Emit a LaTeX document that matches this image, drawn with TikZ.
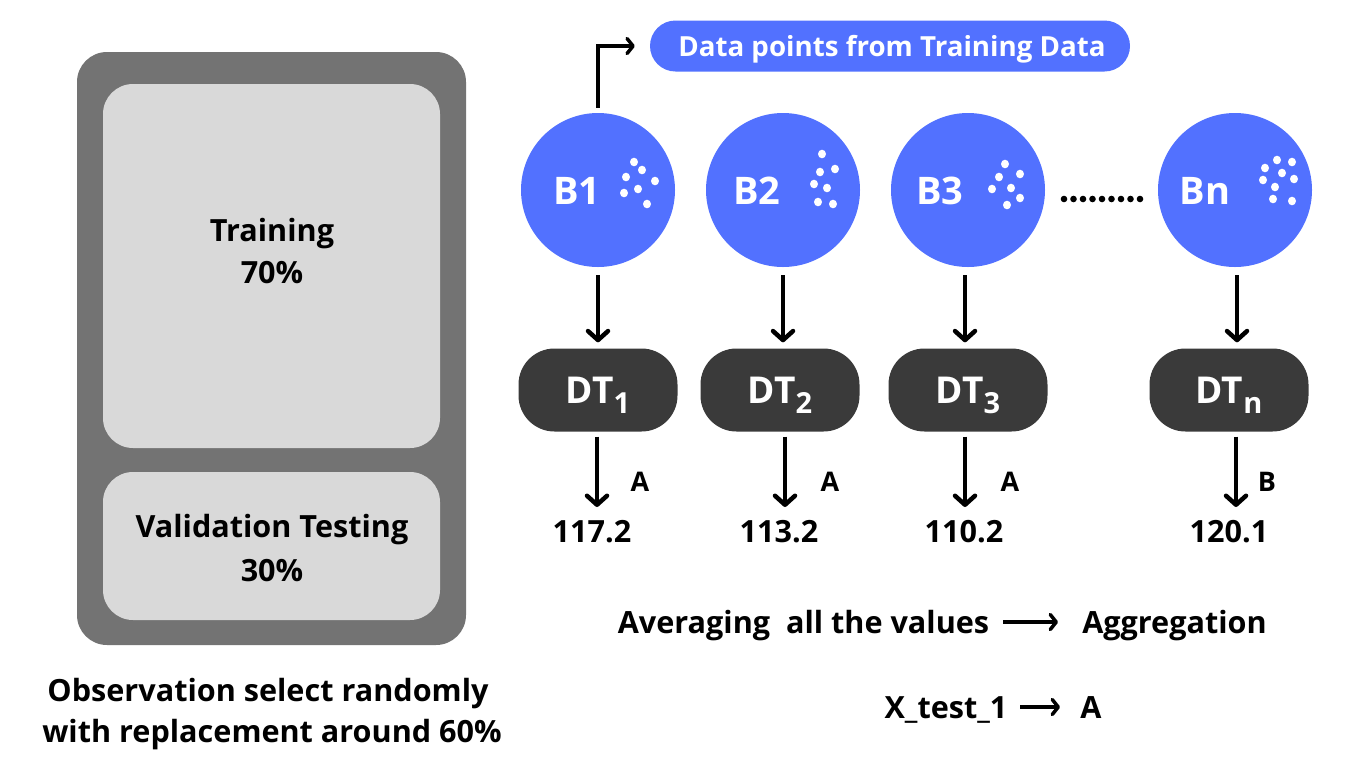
\documentclass[tikz,border=0pt]{standalone}
\usepackage{fontspec}
\setmainfont{Open Sans}
\usetikzlibrary{arrows.meta}
\definecolor{blu}{HTML}{5271FF}
\definecolor{dk}{HTML}{3A3A3A}
\definecolor{outg}{HTML}{737373}
\definecolor{ing}{HTML}{D9D9D9}
\newcommand\sbs[1]{\raisebox{-10pt}{\fontsize{29}{29}\selectfont #1}}
\begin{document}
\begin{tikzpicture}[x=1pt,y=-1pt,
  txt/.style={inner sep=0pt, anchor=base, font=\fontsize{30.6}{36}\selectfont\bfseries},
  wtxt/.style={txt, text=white},
  bigb/.style={inner sep=0pt, anchor=base, text=white, font=\fontsize{38}{42}\selectfont\bfseries},
  dtt/.style={inner sep=0pt, anchor=base, text=white, font=\fontsize{37}{40}\selectfont\bfseries},
  lab/.style={txt, font=\fontsize{27}{30}\selectfont\bfseries},
  bag/.style={circle, fill=blu, minimum size=154pt, inner sep=0pt},
  dtbox/.style={rectangle, rounded corners=36pt, fill=dk, minimum width=159pt, minimum height=83pt, inner sep=0pt},
  arr/.style={line width=4.2pt, -{Straight Barb[length=9pt,width=20pt,line width=4.5pt,round]}},
  sarr/.style={line width=3.5pt, -{Straight Barb[length=6pt,width=15pt,line width=3.5pt,round]}},
  wdot/.style={white}
]
\useasboundingbox (0,0) rectangle (1358,764);
% left panel
\node[fill=outg, rounded corners=30pt, minimum width=389pt, minimum height=593pt, inner sep=0pt] (outer) at (271.5,348.5) {};
\node[fill=ing, rounded corners=30pt, minimum width=337pt, minimum height=364pt, inner sep=0pt] (train) at (271.5,266) {};
\node[fill=ing, rounded corners=30pt, minimum width=337pt, minimum height=148pt, inner sep=0pt] (valid) at (271.5,546) {};
\node[txt] (tr1) at (272,241) {Training};
\node[txt] (tr2) at (272,283) {70\%};
\node[txt] (va1) at (272,537) {Validation Testing};
\node[txt] (va2) at (272,581) {30\%};
\node[txt] (cap1) at (268,701) {Observation select randomly};
\node[txt] (cap2) at (272,742) {with replacement around 60\%};
% top pill
\node[fill=blu, rounded corners=25.5pt, minimum width=480pt, minimum height=51pt, inner sep=0pt] (pill) at (890,46) {};
\node[wtxt, font=\fontsize{27.7}{32}\selectfont\bfseries] (pilltxt) at (892,56) {Data points from Training Data};
% bags
\node[bag] (b1) at (598,190) {};
\node[bag] (b2) at (783,190) {};
\node[bag] (b3) at (968,190) {};
\node[bag] (bn) at (1235,190) {};
\node[bigb] (b1t) at (577,204) {B1};
\node[bigb] (b2t) at (757,204) {B2};
\node[bigb] (b3t) at (940,204) {B3};
\node[bigb] (bnt) at (1205,204) {Bn};
% white dots
\foreach \dx/\dy in {36/-28,44/-20,57/-9,28/-13,40/-1,26/3,49/14}
  \fill[wdot] (598+\dx,190+\dy) ellipse (4pt and 4.3pt);
\foreach \dx/\dy in {39/-36,37/-18,52/-21,31/-6,44/-2,35/12,50/14}
  \fill[wdot] (783+\dx,190+\dy) ellipse (4pt and 4.3pt);
\foreach \dx/\dy in {37/-26,31/-13,52/-16,24/-1,43/-2,39/15,52/8}
  \fill[wdot] (968+\dx,190+\dy) ellipse (4pt and 4.3pt);
\foreach \dx/\dy in {42/-30,57/-28,30/-22,47/-17,28/-10,59/-11,40/-3,38/9,57/11}
  \fill[wdot] (1235+\dx,190+\dy) ellipse (4pt and 4.3pt);
% ellipsis dots
\foreach \i in {0,...,8}
  \fill[black] (1064+\i*9.5,199) circle (3.3pt);
% top bent arrow
\draw[sarr] ([yshift=5pt]b1.north) |- ([xshift=-15pt]pill.west);
% decision trees
\node[dtbox] (d1) at (598,390) {};
\node[dtbox] (d2) at (780,390) {};
\node[dtbox] (d3) at (968,390) {};
\node[dtbox] (dn) at (1229,390) {};
\node[dtt] (d1t) at (598,403) {DT\sbs{1}};
\node[dtt] (d2t) at (780,403) {DT\sbs{2}};
\node[dtt] (d3t) at (968,403) {DT\sbs{3}};
\node[dtt] (dnt) at (1229,403) {DT\sbs{n}};
% arrows bag -> tree
\draw[arr] ([yshift=-8pt]b1.south) -- ([yshift=6pt]b1.south |- d1.north);
\draw[arr] ([yshift=-8pt]b2.south) -- ([yshift=6pt]b2.south |- d2.north);
\draw[arr] ([xshift=-3pt,yshift=-8pt]b3.south) -- ([xshift=-3pt,yshift=6pt]b3.south |- d3.north);
\draw[arr] ([xshift=2pt,yshift=-8pt]bn.south) -- ([xshift=2pt,yshift=6pt]bn.south |- dn.north);
% values
\node[txt] (v1) at (592,542) {117.2};
\node[txt] (v2) at (779,542) {113.2};
\node[txt] (v3) at (964,542) {110.2};
\node[txt] (vn) at (1229,542) {120.1};
\coordinate (e1) at (597,507);
\coordinate (e2) at (785,507);
\coordinate (e3) at (965,507);
\coordinate (en) at (1236,507);
\draw[arr] ([yshift=-5pt]d1.south -| e1) -- (e1);
\draw[arr] ([yshift=-5pt]d2.south -| e2) -- (e2);
\draw[arr] ([yshift=-5pt]d3.south -| e3) -- (e3);
\draw[arr] ([yshift=-5pt]dn.south -| en) -- (en);
\node[lab] (l1) at (640,491) {A};
\node[lab] (l2) at (830,491) {A};
\node[lab] (l3) at (1010,491) {A};
\node[lab] (ln) at (1267,491) {B};
% aggregation
\node[txt] (avg) at (803.5,633) {Averaging\ \ all the values};
\node[txt] (agg) at (1174.5,633) {Aggregation};
\coordinate (a1) at (1003,622);
\coordinate (a2) at (1058,622);
\draw[sarr] (a1) -- (a2);
\node[txt] (xt) at (946,718) {X\_test\_1};
\node[txt] (xa) at (1091,718) {A};
\coordinate (x1) at (1020,707);
\coordinate (x2) at (1060,707);
\draw[sarr] (x1) -- (x2);
\end{tikzpicture}
\end{document}
